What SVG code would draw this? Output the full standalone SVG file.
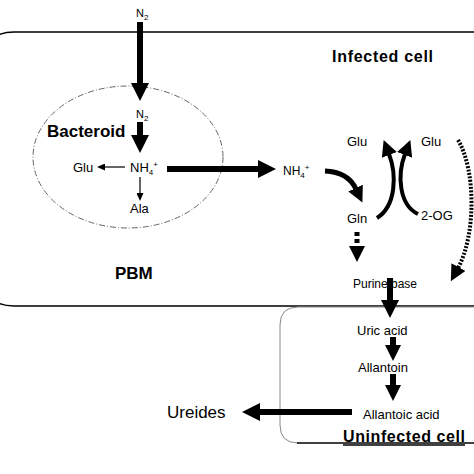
<svg xmlns="http://www.w3.org/2000/svg" width="474" height="474" viewBox="0 0 474 474">
<style>
text{font-family:"Liberation Sans",Arial,sans-serif;fill:#000}
.s{font-size:13px}
.b{font-weight:bold}
.thick{fill:none;stroke:#000;stroke-width:6}
.curve{fill:none;stroke:#000;stroke-width:5}
.thin{fill:none;stroke:#000;stroke-width:1.2}
</style>
<defs>
<marker id="big" markerUnits="userSpaceOnUse" viewBox="0 0 18 18" markerWidth="18" markerHeight="18" refX="1" refY="9" orient="auto"><path d="M0,0 L18,9 L0,18 z"/></marker>
<marker id="med" markerUnits="userSpaceOnUse" viewBox="0 0 16 16" markerWidth="16" markerHeight="16" refX="1" refY="8" orient="auto"><path d="M0,0 L16,8 L0,16 z"/></marker>
<marker id="sm" markerUnits="userSpaceOnUse" viewBox="0 0 8 7" markerWidth="8" markerHeight="7" refX="1" refY="3.5" orient="auto"><path d="M0,0 L8,3.5 L0,7 z"/></marker>
</defs>

<g id="infected-cell">
<path d="M474,32 H14 Q-16,32 -16,62 V276 Q-16,306 14,306 H474" fill="none" stroke="#000" stroke-width="1.3"/>
<text x="332" y="62" class="b" font-size="16" textLength="101">Infected cell</text>
<text x="115" y="279" class="b" font-size="17">PBM</text>
</g>

<g id="bacteroid">
<ellipse cx="128" cy="157" rx="95" ry="71" fill="none" stroke="#666" stroke-width="1" stroke-dasharray="6,2,1,2"/>
<text x="47" y="137" class="b" font-size="17">Bacteroid</text>
</g>

<g id="uninfected-cell">
<path d="M474,307 H298 Q280,307 280,325 V425 Q280,443 298,443" fill="none" stroke="#888" stroke-width="1"/>
<path d="M297,443 H474" fill="none" stroke="#000" stroke-width="1.3"/>
<text x="343" y="442" class="b" font-size="16" textLength="122">Uninfected cell</text>
<path d="M343,445 H465" stroke="#000" stroke-width="1.3"/>
</g>

<g id="n2-top"><text x="136" y="17" font-size="11">N<tspan font-size="8" dy="3">2</tspan></text></g>
<g id="n2-in"><text x="136" y="118" font-size="11">N<tspan font-size="8" dy="3">2</tspan></text></g>
<g id="nh4-in"><text x="130" y="172" font-size="13">NH<tspan font-size="8" dy="3">4</tspan><tspan font-size="8" dy="-8">+</tspan></text></g>
<g id="glu-in"><text x="73" y="172" class="s">Glu</text></g>
<g id="ala"><text x="130" y="213" class="s">Ala</text></g>
<g id="nh4-out"><text x="283" y="175" font-size="12">NH<tspan font-size="8" dy="3">4</tspan><tspan font-size="8" dy="-8">+</tspan></text></g>
<g id="glu-left"><text x="347" y="146" class="s">Glu</text></g>
<g id="glu-right"><text x="421" y="146" class="s">Glu</text></g>
<g id="gln"><text x="347" y="223" class="s">Gln</text></g>
<g id="og"><text x="421" y="220" class="s">2-OG</text></g>
<g id="purine"><text x="353" y="288" font-size="12">Purine base</text></g>
<g id="uric"><text x="357" y="335" class="s">Uric acid</text></g>
<g id="allantoin"><text x="358" y="372" class="s">Allantoin</text></g>
<g id="allantoic"><text x="363" y="419" class="s">Allantoic acid</text></g>
<g id="ureides"><text x="167" y="418" font-size="17">Ureides</text></g>

<g id="connectors">
<path class="thick" d="M140,22 V84" marker-end="url(#big)"/>
<path class="thick" d="M140,122 V136" marker-end="url(#big)"/>
<path class="thin" d="M125,167 H104" marker-end="url(#sm)"/>
<path class="thin" d="M140,177 V194" marker-end="url(#sm)"/>
<path class="thick" d="M167,169 H259" marker-end="url(#big)"/>
<path class="curve" d="M325,171 Q348,172 356,189" marker-end="url(#med)"/>
<path class="curve" style="stroke-width:4" d="M377,218 C396,206 397,175 389,154" marker-end="url(#med)"/>
<path class="curve" style="stroke-width:4" d="M418,214 C399,205 397,175 405,154" marker-end="url(#med)"/>
<path fill="none" stroke="#000" stroke-width="4" stroke-dasharray="2,1.5" d="M458,140 C476,170 476,235 458,268" marker-end="url(#med)"/>
<path fill="none" stroke="#000" stroke-width="5" stroke-dasharray="4,3" d="M357,232 V247" marker-end="url(#med)"/>
<path class="thick" d="M390,278 V301" marker-end="url(#big)"/>
<path class="thick" d="M393,337 V346" marker-end="url(#med)"/>
<path class="thick" d="M393,374 V386" marker-end="url(#med)"/>
<path class="thick" d="M352,412 H259" marker-end="url(#big)"/>
</g>
</svg>
